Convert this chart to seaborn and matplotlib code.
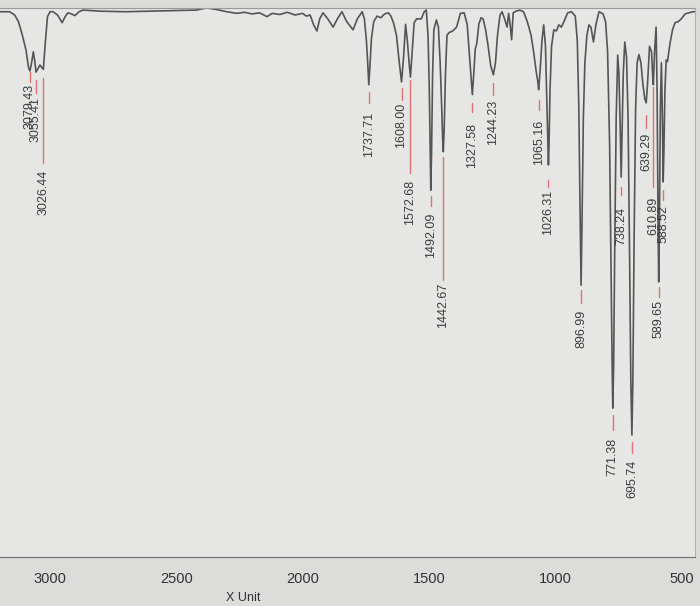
import numpy as np
import pandas as pd
import matplotlib
matplotlib.use("Agg")
import matplotlib.pyplot as plt
import seaborn as sns

# -------------------------------
# spectrum (wavenumber cm-1, transmittance %)
# -------------------------------
wavenumber = [
    3200, 3160, 3140, 3125, 3110, 3095, 3085, 3079.43, 3073, 3066, 3060, 3055.41,
    3040, 3026.44, 3018, 3010, 3000, 2988, 2970, 2952, 2940, 2929, 2915, 2901,
    2885, 2869, 2800, 2700, 2600, 2500, 2420, 2380, 2340, 2300, 2260, 2230, 2200,
    2170, 2141, 2120, 2090, 2060, 2030, 2000, 1985, 1970, 1955, 1943, 1932, 1919,
    1900, 1879, 1862, 1844, 1825, 1800, 1783, 1764, 1755, 1747, 1742, 1737.71,
    1733, 1727, 1718, 1705, 1690, 1675, 1660, 1650, 1640, 1628, 1618, 1608.00,
    1600, 1592, 1585, 1578, 1572.68, 1566, 1558, 1548, 1530, 1518, 1510, 1503,
    1498, 1494, 1492.09, 1489, 1485, 1480, 1470, 1462, 1455, 1449, 1445, 1442.67,
    1439, 1434, 1428, 1420, 1405, 1390, 1375, 1360, 1348, 1340, 1334, 1327.58,
    1322, 1316, 1310, 1302, 1293, 1285, 1275, 1265, 1255, 1244.23, 1236, 1228,
    1218, 1210, 1200, 1190, 1184, 1178, 1172, 1166, 1155, 1140, 1125, 1110, 1095,
    1085, 1075, 1068, 1065.16, 1060, 1052, 1045, 1038, 1032, 1028, 1026.31, 1024,
    1020, 1014, 1005, 995, 985, 975, 965, 950, 935, 920, 912, 906, 901, 896.99,
    893, 888, 882, 874, 866, 858, 848, 838, 826, 810, 800, 792, 784, 778, 774,
    771.38, 768, 764, 758, 752, 747, 742, 738.24, 735, 730, 724, 717, 711, 705,
    700, 695.74, 692, 687, 681, 675, 668, 660, 652, 645, 639.29, 634, 626, 618,
    614, 610.89, 606, 600, 596, 592, 589.65, 587, 583, 579, 575, 572, 569, 565,
    560, 555, 545, 535, 525, 512, 500, 485, 470, 455, 445,
]
transmittance = [
    99.3, 99.3, 98.7, 97.5, 95.1, 92.3, 89.1, 88.5, 90.0, 92.0, 90.2, 88.3,
    89.6, 88.8, 94.0, 98.4, 99.3, 99.3, 98.7, 97.3, 98.4, 99.1, 98.9, 98.6,
    99.3, 99.6, 99.4, 99.3, 99.4, 99.5, 99.6, 100.0, 99.7, 99.3, 99.0, 99.2, 98.9,
    99.1, 98.4, 99.0, 98.8, 99.2, 98.7, 99.0, 98.5, 98.7, 96.8, 95.8, 98.0, 99.1,
    98.0, 96.5, 98.0, 99.3, 97.5, 96.0, 98.0, 99.3, 98.0, 94.0, 90.0, 86.0,
    89.5, 94.5, 97.5, 98.5, 98.2, 98.9, 99.1, 98.5, 97.3, 95.0, 90.5, 86.5,
    91.0, 97.0, 94.0, 90.0, 87.4, 92.0, 97.3, 98.0, 98.0, 99.3, 99.6, 95.0,
    85.0, 73.0, 66.8, 74.0, 88.0, 96.0, 97.8, 96.5, 90.0, 82.0, 76.0, 73.8,
    78.0, 88.0, 95.0, 95.5, 95.8, 96.5, 99.0, 99.1, 97.0, 92.0, 88.0, 84.2,
    88.0, 92.5, 93.5, 97.0, 98.2, 98.0, 96.0, 93.0, 89.5, 87.8, 90.0, 95.0,
    98.7, 99.3, 98.0, 96.5, 99.0, 97.0, 94.2, 99.1, 99.4, 99.6, 99.3, 97.5, 95.0,
    92.0, 88.5, 86.5, 85.1, 88.0, 94.0, 96.9, 93.0, 82.0, 74.0, 71.4, 75.0,
    85.0, 93.0, 96.0, 95.8, 96.9, 96.5, 97.5, 99.1, 99.3, 98.5, 94.0, 82.0, 63.0, 49.5,
    62.0, 80.0, 90.0, 95.0, 96.9, 96.5, 93.8, 97.0, 99.3, 98.9, 97.5, 92.0, 75.0, 50.0, 35.0,
    27.1, 35.0, 55.0, 80.0, 91.4, 88.0, 78.0, 69.2, 77.0, 88.0, 93.8, 91.0, 80.0, 55.0,
    32.0, 22.2, 32.0, 58.0, 82.0, 90.0, 91.5, 90.0, 86.0, 83.5, 82.7, 86.0, 93.0, 92.0,
    88.0, 86.0, 92.0, 96.5, 85.0, 60.0, 50.1, 60.0, 82.0, 90.0, 80.0, 68.3, 74.0, 85.0,
    90.5, 90.2, 93.5, 96.0, 97.3, 97.5, 98.0, 98.9, 99.1, 99.3, 99.3,
]

# -------------------------------
# peak labels: where drawn, text, red marker line (top, bottom), text top
# -------------------------------
peak_pos = [3079.43, 3055.41, 3026.44, 1737.71, 1608.00, 1572.68, 1492.09, 1442.67,
            1327.58, 1244.23, 1065.16, 1026.31, 896.99, 771.38, 738.24, 695.74,
            639.29, 610.89, 589.65, 572]
peak_text = ["3079.43", "3055.41", "3026.44", "1737.71", "1608.00", "1572.68",
             "1492.09", "1442.67", "1327.58", "1244.23", "1065.16", "1026.31",
             "896.99", "771.38", "738.24", "695.74", "639.29", "610.89",
             "589.65", "588.52"]
mark_top = [88.3, 86.9, 87.2, 84.7, 85.4, 86.9, 65.8, 72.9, 82.7, 86.3, 83.2, 68.7,
            48.6, 25.9, 67.4, 20.9, 80.5, 85.6, 49.2, 66.8]
mark_bottom = [86.5, 84.5, 71.8, 82.7, 83.2, 69.9, 63.9, 50.5, 81.1, 84.2, 81.4, 67.4,
               46.3, 23.1, 65.9, 18.9, 78.1, 67.4, 47.4, 65.0]
text_top = [86.2, 83.8, 70.5, 81.1, 82.7, 68.7, 62.7, 49.9, 79.1, 83.2, 79.6, 66.8,
            45.0, 21.7, 63.8, 17.7, 77.2, 65.6, 46.8, 64.1]

x_ticks = [3000, 2500, 2000, 1500, 1000, 500]

df = pd.DataFrame({"wn": wavenumber, "T": transmittance})

sns.set_style("white")
plt.rcParams["font.family"] = ["Liberation Sans", "DejaVu Sans"]

fig = plt.figure(figsize=(7.0, 6.06), dpi=100, facecolor="#dcdcda")
ax = fig.add_axes([0.0, 0.081, 0.993, 0.906])
ax.set_facecolor("#e6e6e4")

sns.lineplot(data=df, x="wn", y="T", sort=False, ax=ax, color="#555555", linewidth=1.2)

for pos, txt, y1, y2, yt in zip(peak_pos, peak_text, mark_top, mark_bottom, text_top):
    ax.plot([pos, pos], [y1, y2], color="#e07272", linewidth=1.0)
    ax.text(pos, yt, txt, rotation=90, ha="center", va="top", fontsize=9, color="#3c3c3c")

ax.set_xlim(3198, 445.5)
ax.set_ylim(0, 100)
ax.set_xticks(x_ticks)
ax.set_xticklabels([str(t) for t in x_ticks], fontsize=10.5, color="#333333")
ax.set_yticks([])
ax.set_ylabel("")
ax.set_xlabel("X Unit", fontsize=9, color="#333333")
ax.xaxis.set_label_coords(0.35, -0.063)
ax.tick_params(axis="x", direction="out", length=7, width=1, color="#777777", pad=4)

ax.spines["left"].set_visible(False)
ax.spines["bottom"].set_color("#6e6e6e")
ax.spines["top"].set_color("#9a9a9a")
ax.spines["right"].set_color("#b0b0b0")

fig.savefig("out.png", dpi=100, facecolor=fig.get_facecolor())
